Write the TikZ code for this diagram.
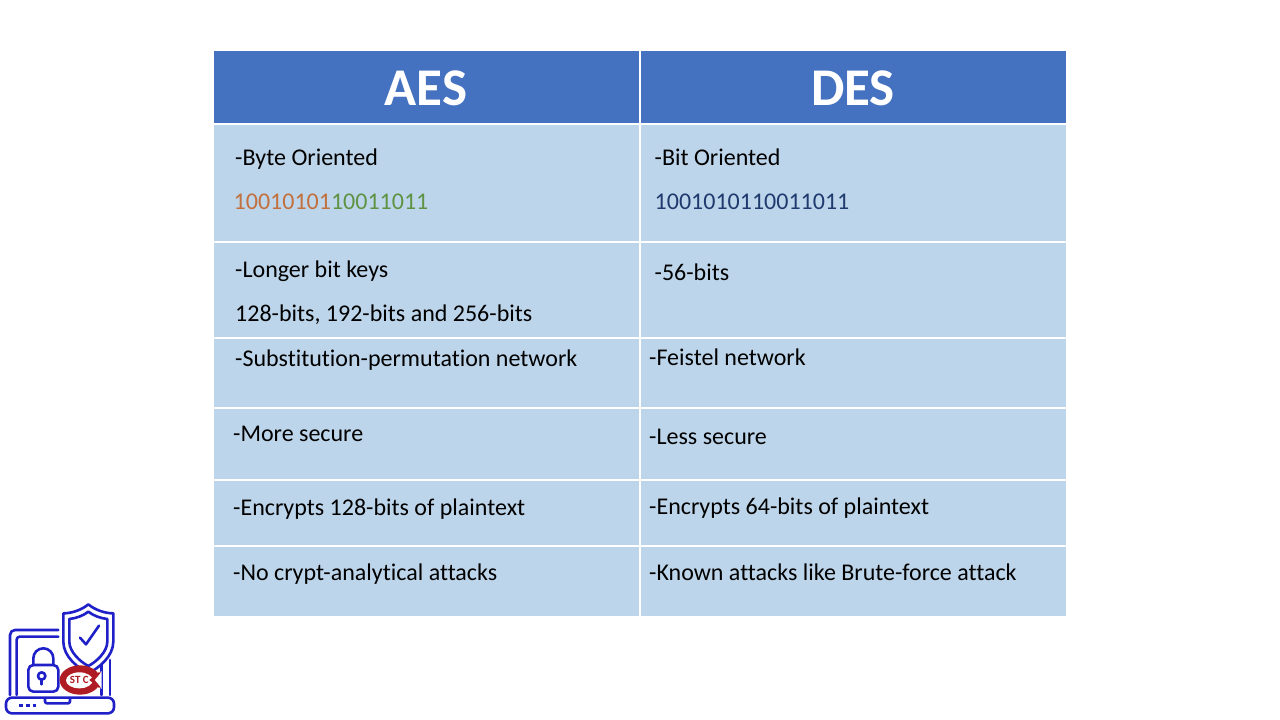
\documentclass[tikz,border=0pt]{standalone}
\usepackage{fontspec}
\setmainfont[Ligatures=NoCommon]{Carlito}
\definecolor{hdr}{HTML}{4472C0}
\definecolor{cellb}{HTML}{BDD5EA}
\definecolor{orng}{HTML}{C2703D}
\definecolor{grn}{HTML}{5F9344}
\definecolor{navy}{HTML}{1F3A6E}
\definecolor{logob}{HTML}{2020C8}
\definecolor{logor}{HTML}{B01C24}
\tikzset{
  hcell/.style={fill=hdr,anchor=north west,inner sep=0pt,outer sep=0pt},
  bcell/.style={fill=cellb,anchor=north west,inner sep=0pt,outer sep=0pt},
  htext/.style={text=white,font=\fontsize{53}{53}\selectfont\bfseries,anchor=base,inner sep=0pt},
  ctext/.style={text=black,font=\fontsize{24}{24}\selectfont,anchor=base west,inner sep=0pt},
  sep/.style={draw=white,line width=1.6pt},
  lg/.style={draw=logob,line width=2.6pt,line join=round,line cap=round,fill=none}
}
\begin{document}
\begin{tikzpicture}[x=1pt,y=-1pt]
\useasboundingbox[fill=white] (0,0) rectangle (1280,720);
% cells
\newcommand{\cell}[6]{\node[#1,minimum width=#4pt,minimum height=#5pt] (#6) at (#2,#3) {};}
\cell{hcell}{214}{51}{426}{73}{ha}
\cell{hcell}{640}{51}{426}{73}{hb}
\cell{bcell}{214}{124}{426}{118}{a1}
\cell{bcell}{640}{124}{426}{118}{b1}
\cell{bcell}{214}{242}{426}{96}{a2}
\cell{bcell}{640}{242}{426}{96}{b2}
\cell{bcell}{214}{338}{426}{70}{a3}
\cell{bcell}{640}{338}{426}{70}{b3}
\cell{bcell}{214}{408}{426}{72}{a4}
\cell{bcell}{640}{408}{426}{72}{b4}
\cell{bcell}{214}{480}{426}{66}{a5}
\cell{bcell}{640}{480}{426}{66}{b5}
\cell{bcell}{214}{546}{426}{70}{a6}
\cell{bcell}{640}{546}{426}{70}{b6}
% separators
\draw[sep,line width=2pt] (ha.south west) -- (hb.south east);
\draw[sep] (a1.south west) -- (b1.south east);
\draw[sep] (a2.south west) -- (b2.south east);
\draw[sep] (a3.south west) -- (b3.south east);
\draw[sep,line width=2.4pt] (a4.south west) -- (b4.south east);
\draw[sep] (a5.south west) -- (b5.south east);
\draw[sep,line width=1.8pt] ([xshift=-0.2pt]ha.north east) -- ([xshift=-0.2pt]a6.south east);
% header text
\node[htext] (t0) at (426,105) {AES};
\node[htext] (t1) at (853,105) {DES};
% body
\node[ctext] (t2) at (235,165) {-Byte Oriented};
\node[ctext] (t3) at (233.5,209) {\textcolor{orng}{10010101}\textcolor{grn}{10011011}};
\node[ctext] (t4) at (235,277) {-Longer bit keys};
\node[ctext] (t5) at (235,321) {128-bits, 192-bits and 256-bits};
\node[ctext] (t6) at (235,366) {-Substitution-permutation network};
\node[ctext] (t7) at (233,441) {-More secure};
\node[ctext] (t8) at (233,515) {-Encrypts 128-bits of plaintext};
\node[ctext] (t9) at (233,580) {-No crypt-analytical attacks};
\node[ctext] (u2) at (654.5,165) {-Bit Oriented};
\node[ctext,text=navy] (u3) at (654.5,209) {1001010110011011};
\node[ctext] (u4) at (654.5,280) {-56-bits};
\node[ctext] (u6) at (649,365) {-Feistel network};
\node[ctext] (u7) at (649,444) {-Less secure};
\node[ctext] (u8) at (649,514) {-Encrypts 64-bits of plaintext};
\node[ctext] (u9) at (649,580) {-Known attacks like Brute-force attack};
% logo
\begin{scope}[shift={(0,595)},x=0.3333pt,y=-0.3333pt]
\draw[lg,rounded corners=5pt] (175,105) -- (30,105) -- (30,300);
\draw[lg,rounded corners=3pt] (175,125) -- (50,125) -- (50,300);
\draw[lg] (305,205) -- (305,300);
\draw[lg] (330,195) -- (330,300);
\draw[lg,rounded corners=6pt] (18,308) -- (342,308) -- (342,355) -- (18,355) -- cycle;
\draw[lg,rounded corners=2pt] (135,310) -- (135,325) -- (210,325) -- (210,310);
\draw[lg,line cap=butt] (58,331) -- (69,331) (78,331) -- (89,331) (98,331) -- (109,331);
% lock
\draw[lg,rounded corners=5pt] (85,210) rectangle (175,290);
\draw[lg] (100,210) -- (100,190) arc[start angle=180,end angle=360,radius=30] -- (160,210);
\draw[lg] (125,243) circle[radius=11];
\draw[lg] (125,254) -- (125,268);
% shield
\draw[lg,fill=white] (265,28) .. controls (245,45) and (215,55) .. (190,55) -- (190,140) .. controls (190,185) and (235,220) .. (265,235) .. controls (295,220) and (340,185) .. (340,140) -- (340,55) .. controls (315,55) and (285,45) .. (265,28) -- cycle;
\draw[lg] (265,50) .. controls (250,62) and (228,70) .. (208,72) -- (208,140) .. controls (208,170) and (240,200) .. (265,213) .. controls (290,200) and (322,170) .. (322,140) -- (322,72) .. controls (302,70) and (280,62) .. (265,50) -- cycle;
\draw[lg] (240,128) -- (258,148) -- (297,92);
% St C mark
\fill[logor] (240,255) ellipse[x radius=61,y radius=44];
\fill[white] (238,256) ellipse[x radius=40,y radius=24];
\fill[white] (272,255) -- (305,228) -- (305,282) -- cycle;
\fill[logor] (268,255) -- (296,232) -- (303,232) -- (284,255) -- (303,278) -- (296,278) -- cycle;
\node[text=logor,font=\fontsize{11}{11}\selectfont\bfseries,inner sep=0pt] (stc) at (238,256) {ST C};
\end{scope}
\end{tikzpicture}
\end{document}
